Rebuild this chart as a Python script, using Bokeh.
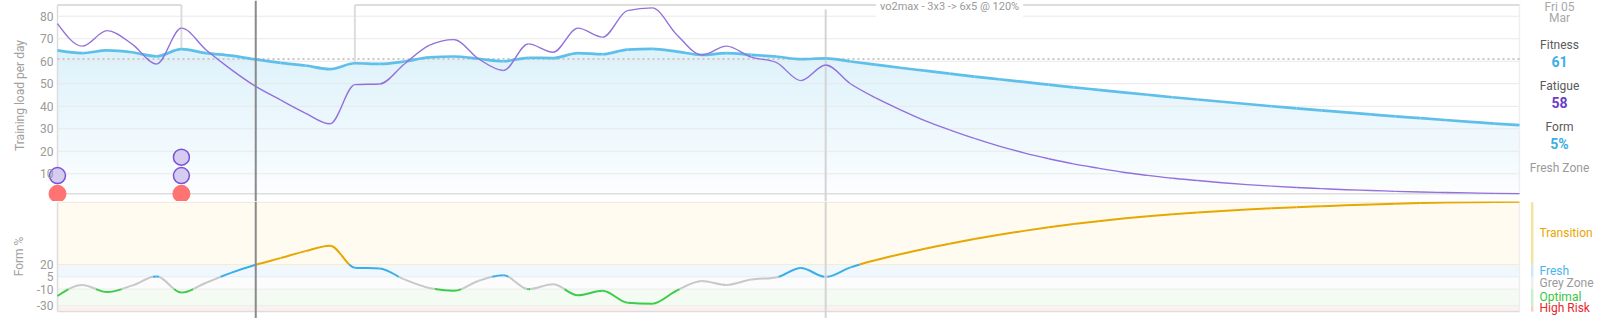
import math
import datetime as dt
import numpy as np
from bokeh.plotting import figure
from bokeh.layouts import column
from bokeh.models import Range1d, Label, ColumnDataSource
from bokeh.core.properties import value
from bokeh.embed import file_html
from bokeh.resources import INLINE

# ---------------- data ----------------
start_date = dt.date(2021, 2, 2)
days = list(range(60))
today = 31
fitness = [64.8, 63.6, 64.8, 64.0, 62.2, 65.4, 63.6, 62.5, 60.8, 59.3,
           58.1, 56.5, 59.1, 58.8, 59.9, 61.7, 62.1, 61.1, 60.0, 61.5,
           61.4, 63.6, 63.1, 65.2, 65.5, 64.3, 62.8, 63.6, 62.8, 62.1,
           60.9, 61.3, 59.9, 58.5, 57.1, 55.8, 54.5, 53.2, 52.0, 50.8,
           49.6, 48.4, 47.3, 46.2, 45.1, 44.0, 43.0, 42.0, 41.0, 40.0,
           39.1, 38.2, 37.3, 36.4, 35.5, 34.7, 33.9, 33.1, 32.3, 31.6]
fatigue = [76.7, 66.7, 73.6, 67.7, 58.8, 74.7, 65.0, 56.4, 48.8, 42.8,
           37.0, 32.2, 49.6, 49.9, 58.8, 67.0, 69.6, 61.0, 55.9, 67.7,
           64.0, 74.7, 70.7, 82.5, 83.7, 71.7, 62.8, 66.7, 61.8, 59.5,
           51.4, 58.3, 50.0, 43.8, 38.5, 33.6, 29.5, 25.7, 22.3, 19.3,
           16.7, 14.4, 12.5, 10.7, 9.3, 8.0, 7.0, 6.0, 5.2, 4.5,
           3.9, 3.4, 2.9, 2.6, 2.2, 1.9, 1.7, 1.5, 1.3, 1.2]
form = [-18.4, -4.9, -13.6, -5.8, 5.5, -14.2, -2.2, 9.8, 19.7, 27.8,
        36.3, 43.0, 16.1, 15.1, 1.8, -8.6, -12.1, 0.2, 6.8, -10.1,
        -4.2, -17.5, -12.0, -26.5, -27.8, -11.5, 0.0, -4.9, 1.6, 4.2,
        15.6, 4.9, 16.5, 25.1, 32.4, 39.2, 45.3, 51.0, 56.2, 61.0,
        65.3, 69.3, 72.8, 76.0, 78.8, 81.2, 83.3, 85.2, 87.0, 88.5,
        89.8, 91.0, 92.2, 93.2, 94.1, 94.9, 95.5, 95.9, 96.2, 96.4]
load_ticks = [10, 20, 30, 40, 50, 60, 70, 80]
load_tick_labels = ["10", "20", "30", "40", "50", "60", "70", "80"]
form_ticks = [20, 5, -10, -30]
form_tick_labels = ["20", "5", "-10", "-30"]
zone_names = ["High Risk", "Optimal", "Grey Zone", "Fresh", "Transition"]
zone_lo = [-37.3, -30, -10, 5, 20]
zone_hi = [-30, -10, 5, 20, 95.9]
activity_day = [0, 5, 5]
activity_stack = [9.2, 9.2, 17.4]
risk_day = [0, 5]
plan_start = [-4, 12]
plan_end = [5, 60]
plan_label = ["", "vo2max - 3x3 -> 6x5 @ 120%"]

# ---------------- style ----------------
W = 1609
H_TOP = 201
H_FORM = 117
PX_DAY = 24.78
X0_PX = 57
FONT_NAME = "Roboto"
FONT = value(FONT_NAME)
FIT_COLOR = "#5ebfea"
FIT_RGB = (94, 191, 234)
FAT_COLOR = "#9370db"
zone_line_colors = ["#e8262b", "#3ccc4a", "#c8c8c8", "#3aaee8", "#e6a800"]
zone_fill_colors = ["#fcf0f0", "#f3fbf3", "#fcfcfc", "#f1f8fd", "#fffbf1"]
zone_edge_colors = ["#f6dede", "#e4f3e4", "#ececec", "#dfeef8", "#f6ecd2"]
zone_bar_colors = ["#f8cdd0", "#c8f0cc", "#eeeeee", "#cde9f7", "#f5e3a0"]
zone_text_colors = ["#e8262b", "#36c63f", "#9a9a9a", "#4ab3ea", "#e8a600"]

last = days[-1]
x_range = Range1d(-X0_PX / PX_DAY, (W - X0_PX) / PX_DAY)
LOAD_PX = 2.251
LOAD_ZERO_PX = 195.8
top_range = Range1d((LOAD_ZERO_PX - H_TOP) / LOAD_PX, LOAD_ZERO_PX / LOAD_PX)
FORM_UPP = 1.2195
FORM_20_PX = 63.0
form_range = Range1d(20 - (H_FORM - FORM_20_PX) * FORM_UPP, 20 + FORM_20_PX * FORM_UPP)
BASE = 1.1
BRACKET_Y = 85.0
BRACKET_LABEL_Y = 84.1


def make_fig(h, yr):
    f = figure(width=W, height=h, x_range=x_range, y_range=yr,
               output_backend="svg", toolbar_location=None,
               x_axis_location=None, y_axis_location=None,
               min_border=0, min_border_left=0, min_border_right=0,
               min_border_top=0, min_border_bottom=0)
    f.outline_line_color = None
    f.grid.visible = False
    f.background_fill_color = "white"
    f.border_fill_color = "white"
    return f


def monotone_segments(y):
    y = np.asarray(y, dtype=float)
    n = len(y)
    s = np.diff(y)
    t = np.zeros(n)
    for i in range(1, n - 1):
        s0, s1 = s[i - 1], s[i]
        pp = (s0 + s1) / 2.0
        t[i] = (np.sign(s0) + np.sign(s1)) * min(abs(s0), abs(s1), 0.5 * abs(pp))
    t[0] = (3 * s[0] - t[1]) / 2.0
    t[-1] = (3 * s[-1] - t[-2]) / 2.0
    segs = []
    for i in range(n - 1):
        segs.append([(i, y[i]), (i + 1 / 3, y[i] + t[i] / 3),
                     (i + 2 / 3, y[i + 1] - t[i + 1] / 3), (i + 1, y[i + 1])])
    return segs


def bez_split(P, t):
    p0, p1, p2, p3 = [np.array(q, dtype=float) for q in P]
    a = p0 + (p1 - p0) * t
    b = p1 + (p2 - p1) * t
    c = p2 + (p3 - p2) * t
    d = a + (b - a) * t
    e = b + (c - b) * t
    f = d + (e - d) * t
    return [p0, a, d, f], [f, e, c, p3]


def bez_sub(P, ta, tb):
    left, _ = bez_split(P, tb)
    if ta <= 0:
        return left
    _, right = bez_split(left, ta / tb)
    return right


def bez_y(P, t):
    return ((1 - t) ** 3 * P[0][1] + 3 * (1 - t) ** 2 * t * P[1][1]
            + 3 * (1 - t) * t ** 2 * P[2][1] + t ** 3 * P[3][1])


def bez_source(segs, colors=None):
    d = dict(x0=[float(s[0][0]) for s in segs], y0=[float(s[0][1]) for s in segs],
             cx0=[float(s[1][0]) for s in segs], cy0=[float(s[1][1]) for s in segs],
             cx1=[float(s[2][0]) for s in segs], cy1=[float(s[2][1]) for s in segs],
             x1=[float(s[3][0]) for s in segs], y1=[float(s[3][1]) for s in segs])
    if colors is not None:
        d["color"] = colors
    return ColumnDataSource(d)


def tint(alpha):
    r, g, b = [round(255 - (255 - c) * alpha) for c in FIT_RGB]
    return "#%02x%02x%02x" % (r, g, b)


# ---------------- top figure ----------------
p = make_fig(H_TOP, top_range)

# vertical gradient under the fitness line, as opaque stacked bands
fit_arr = np.array(fitness)
for k in range(0, 34):
    lvl = BASE + k * 2.0
    alpha = min(0.205, 0.02 + 0.185 * (lvl + 1.0) / 62.0)
    p.varea(x=days, y1=[lvl] * len(days), y2=[float(v) for v in np.maximum(fit_arr, lvl)],
            fill_color=tint(alpha), fill_alpha=1.0)

p.segment(x0=[0] * len(load_ticks), x1=[last] * len(load_ticks), y0=load_ticks, y1=load_ticks,
          line_color="#e9e9e9", line_width=1)
p.segment(x0=[0], x1=[last], y0=[BASE], y1=[BASE], line_color="#dddddd", line_width=1.5)
p.segment(x0=[0], x1=[0], y0=[BASE], y1=[BRACKET_Y], line_color="#dddddd", line_width=1.5)
p.segment(x0=[last], x1=[last], y0=[BASE], y1=[BRACKET_Y], line_color="#eeeeee", line_width=1.5)

cur_fit = fitness[today]
p.segment(x0=[0], x1=[last], y0=[round(cur_fit)], y1=[round(cur_fit)], line_color="#c8c8c8",
          line_width=2, line_dash="2 3")

# plan brackets
for s, e, lab in zip(plan_start, plan_end, plan_label):
    xs = max(s, 0)
    xe = min(e, last)
    p.line([xs, xe], [BRACKET_Y, BRACKET_Y], line_color="#dddddd", line_width=2)
    if 0 < s <= last:
        p.line([s, s], [BRACKET_Y, fitness[s]], line_color="#dddddd", line_width=2)
    if 0 <= e < last:
        p.line([e, e], [BRACKET_Y, fitness[e]], line_color="#dddddd", line_width=2)
    if lab:
        p.add_layout(Label(x=(max(s, 0) + e) / 2, y=BRACKET_LABEL_Y, text=lab, text_align="center",
                           text_baseline="middle", text_font=FONT_NAME, text_font_size="11px",
                           text_color="#9a9a9a", background_fill_color="white",
                           padding=4))

# today line (light)
p.segment(x0=[today], x1=[today], y0=[top_range.start], y1=[83.0], line_color="#d4d4d4", line_width=2)

p.bezier(x0="x0", y0="y0", x1="x1", y1="y1", cx0="cx0", cy0="cy0", cx1="cx1", cy1="cy1",
         source=bez_source(monotone_segments(fitness)), line_color=FIT_COLOR, line_width=2.7)
p.bezier(x0="x0", y0="y0", x1="x1", y1="y1", cx0="cx0", cy0="cy0", cx1="cx1", cy1="cy1",
         source=bez_source(monotone_segments(fatigue)), line_color=FAT_COLOR, line_width=1.4)

# dark marker line
p.segment(x0=[8], x1=[8], y0=[top_range.start], y1=[top_range.end], line_color="#8a8a8a", line_width=2)

p.scatter(x=risk_day, y=[BASE] * len(risk_day), size=17, fill_color="#ff6b6b",
          line_color="#ff6b6b", fill_alpha=0.95, line_alpha=0.95)
p.scatter(x=activity_day, y=activity_stack, size=16, fill_color="#d6ccf2",
          line_color="#7a52d6", line_width=1.5)

# tick labels and axis title
p.text(x=[0] * len(load_ticks), y=load_ticks, text=load_tick_labels, x_offset=-4,
       text_align="right", text_baseline="middle", text_font=FONT, text_font_size="12px",
       text_color="#9a9a9a")
p.text(x=[0], y=[44.8], text=["Training load per day"], x_offset=-37.7, angle=math.pi / 2,
       text_align="center", text_baseline="middle", text_font=FONT, text_font_size="12px",
       text_color="#a0a0a0")

# right info panel
cur_date = start_date + dt.timedelta(days=today)
cur_form = round(form[today])
zone_idx = sum(1 for b in zone_lo[1:] if cur_form >= b)
info = [
    (cur_date.strftime("%a %d"), 84.0, "#a8a8a8", "normal", "12px"),
    (cur_date.strftime("%b"), 79.3, "#a8a8a8", "normal", "12px"),
    ("Fitness", 67.3, "#5a5a5a", "normal", "12px"),
    (str(round(cur_fit)), 59.9, "#3caee6", "bold", "14px"),
    ("Fatigue", 48.9, "#5a5a5a", "normal", "12px"),
    (str(round(fatigue[today])), 41.8, "#6a3dcc", "bold", "14px"),
    ("Form", 30.7, "#5a5a5a", "normal", "12px"),
    (f"{cur_form}%", 23.3, "#3caee6", "bold", "14px"),
    (f"{zone_names[zone_idx]} Zone", 12.7, "#9a9a9a", "normal", "12px"),
]
for txt, yy, col, style, size in info:
    p.text(x=[last], y=[yy], text=[txt], x_offset=40, text_align="center",
           text_baseline="middle", text_font=FONT, text_font_size=size,
           text_color=col, text_font_style=style)

# ---------------- form figure ----------------
q = make_fig(H_FORM, form_range)
q.quad(left=[0] * len(zone_lo), right=[last] * len(zone_lo), bottom=zone_lo, top=zone_hi,
       fill_color=zone_fill_colors, line_color=None)
q.segment(x0=[0] * 4, x1=[last] * 4, y0=zone_lo[1:], y1=zone_lo[1:],
          line_color=zone_edge_colors[1:], line_width=1)
q.segment(x0=[0], x1=[0], y0=[zone_lo[0]], y1=[zone_hi[-1]], line_color="#dddddd", line_width=1.5)
q.segment(x0=[last], x1=[last], y0=[zone_lo[0]], y1=[zone_hi[-1]], line_color="#eeeeee", line_width=1.5)
q.segment(x0=[0], x1=[last], y0=[zone_lo[0]], y1=[zone_lo[0]], line_color="#dddddd", line_width=1.5)
q.segment(x0=[0], x1=[last], y0=[zone_hi[-1]], y1=[zone_hi[-1]], line_color="#ebe6d8", line_width=1)

q.segment(x0=[today], x1=[today], y0=[form_range.start], y1=[form_range.end],
          line_color="#d4d4d4", line_width=2)

# colored form line split at zone boundaries
pieces, piece_colors = [], []
for seg in monotone_segments(form):
    P = [(pt[0], pt[1]) for pt in seg]
    a = -P[0][1] + 3 * P[1][1] - 3 * P[2][1] + P[3][1]
    b2 = 3 * P[0][1] - 6 * P[1][1] + 3 * P[2][1]
    c = -3 * P[0][1] + 3 * P[1][1]
    d0 = P[0][1]
    ts = [0.0, 1.0]
    for bnd in zone_lo[1:]:
        coeffs = [a, b2, c, d0 - bnd]
        if all(abs(cc) < 1e-12 for cc in coeffs[:3]):
            continue
        for r in np.roots(coeffs):
            if abs(r.imag) < 1e-9 and 1e-6 < r.real < 1 - 1e-6:
                ts.append(float(r.real))
    ts = sorted(ts)
    for ta, tb in zip(ts[:-1], ts[1:]):
        if tb - ta < 1e-9:
            continue
        sub = bez_sub(P, ta, tb)
        ym = bez_y(P, (ta + tb) / 2)
        zi = sum(1 for bnd in zone_lo[1:] if ym >= bnd)
        pieces.append([tuple(v) for v in sub])
        piece_colors.append(zone_line_colors[zi])
q.bezier(x0="x0", y0="y0", x1="x1", y1="y1", cx0="cx0", cy0="cy0", cx1="cx1", cy1="cy1",
         source=bez_source(pieces, piece_colors), line_color="color", line_width=2)

q.segment(x0=[8], x1=[8], y0=[form_range.start], y1=[form_range.end], line_color="#8a8a8a", line_width=2)

# zone legend on the right
zone_mid = [(lo + hi) / 2 for lo, hi in zip(zone_lo, zone_hi)]
bar_x = last + 12.7 / PX_DAY
q.segment(x0=[bar_x] * 5, x1=[bar_x] * 5, y0=zone_lo, y1=zone_hi, line_color=zone_bar_colors,
          line_width=2.5)
q.text(x=[last] * 5, y=zone_mid, text=zone_names, x_offset=20, text_align="left",
       text_baseline="middle", text_font=FONT, text_font_size="12px", text_color=zone_text_colors)

q.text(x=[0] * len(form_ticks), y=form_ticks, text=form_tick_labels, x_offset=-4,
       text_align="right", text_baseline="middle", text_font=FONT, text_font_size="12px",
       text_color="#9a9a9a")
q.text(x=[0], y=[29.8], text=["Form %"], x_offset=-38.3, angle=math.pi / 2,
       text_align="center", text_baseline="middle", text_font=FONT, text_font_size="12px",
       text_color="#a0a0a0")

layout = column(p, q, spacing=0)
open("out.html", "w").write(file_html(layout, INLINE))
